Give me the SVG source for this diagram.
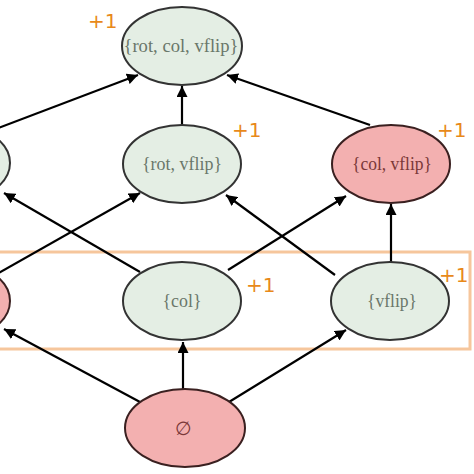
<svg xmlns="http://www.w3.org/2000/svg" width="474" height="474" viewBox="0 0 474 474">
<defs>
<style>
.g{fill:#e4eee4;stroke:#333;stroke-width:2}
.r{fill:#f3b0b0;stroke:#3a2020;stroke-width:2}
.tg{font-family:"Liberation Serif",serif;font-size:18.5px;fill:#6a776a;text-anchor:middle}
.tr{font-family:"Liberation Serif",serif;font-size:18.5px;fill:#7a3838;text-anchor:middle}
.p{font-family:"DejaVu Sans",sans-serif;font-size:20px;fill:#e8891a}
.e{stroke:#000;stroke-width:2.2;fill:none;marker-end:url(#a)}
</style>
<marker id="a" viewBox="0 0 10 10" refX="10" refY="5" markerWidth="5" markerHeight="5" orient="auto" markerUnits="strokeWidth">
<path d="M0,0L10,5L0,10z" fill="#000"/>
</marker>
</defs>
<rect x="-20" y="252" width="490" height="97" fill="none" stroke="#f6c69c" stroke-width="3"/>
<g id="edges">
<path class="e" d="M-20,135L138,75"/>
<path class="e" d="M370,125L227,75"/>
<path class="e" d="M182,125L182,86"/>
<path class="e" d="M-10,278L140,193"/>
<path class="e" d="M140,272L4,193"/>
<path class="e" d="M335,275L226,195"/>
<path class="e" d="M228,270L346,196"/>
<path class="e" d="M391,262L391,204"/>
<path class="e" d="M183,389L183,342"/>
<path class="e" d="M140,402L4,329"/>
<path class="e" d="M229,402L346,330"/>
</g>
<g id="n_rcv"><ellipse class="g" cx="182" cy="46" rx="60" ry="39"/><text class="tg" x="181" y="52" textLength="115" lengthAdjust="spacingAndGlyphs">{rot, col, vflip}</text></g>
<g id="n_l1"><ellipse class="g" cx="-49" cy="163" rx="59" ry="39"/></g>
<g id="n_rv"><ellipse class="g" cx="182" cy="164" rx="59" ry="39"/><text class="tg" x="182" y="170" textLength="80" lengthAdjust="spacingAndGlyphs">{rot, vflip}</text></g>
<g id="n_cv"><ellipse class="r" cx="391" cy="164" rx="59" ry="39"/><text class="tr" x="392" y="170" textLength="80" lengthAdjust="spacingAndGlyphs">{col, vflip}</text></g>
<g id="n_l2"><ellipse class="r" cx="-49" cy="301" rx="59" ry="39"/></g>
<g id="n_c"><ellipse class="g" cx="182" cy="301" rx="59" ry="39"/><text class="tg" x="182" y="307" textLength="39" lengthAdjust="spacingAndGlyphs">{col}</text></g>
<g id="n_v"><ellipse class="g" cx="390" cy="301" rx="59" ry="39"/><text class="tg" x="392" y="307" textLength="50" lengthAdjust="spacingAndGlyphs">{vflip}</text></g>
<g id="n_e"><ellipse class="r" cx="185" cy="428" rx="60" ry="39"/><text class="tr" x="183" y="435">∅</text></g>
<g id="plus">
<text class="p" x="88" y="28">+1</text>
<text class="p" x="232" y="137">+1</text>
<text class="p" x="437" y="137">+1</text>
<text class="p" x="246" y="292">+1</text>
<text class="p" x="439" y="282">+1</text>
</g>
</svg>
